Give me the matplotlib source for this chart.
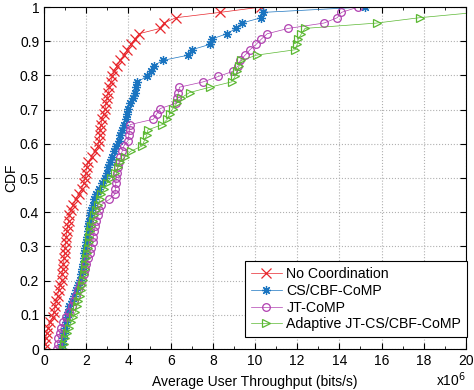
import numpy as np
import matplotlib.pyplot as plt
from matplotlib.ticker import MultipleLocator

plt.rcParams['font.family'] = ['Liberation Sans', 'DejaVu Sans']

# throughput samples (x 10^6 bits/s), sorted, one per CDF level (65 levels: 0..64/64)
no_coord = [0.0, 0.05, 0.08, 0.12, 0.2, 0.3, 0.4, 0.47, 0.53, 0.58, 0.64, 0.7, 0.77,
            0.84, 0.86, 0.89, 0.92, 0.95, 0.97, 0.99, 1.02, 1.05, 1.08, 1.12, 1.16,
            1.2, 1.26, 1.38, 1.5, 1.65, 1.78, 1.88, 1.95, 1.98, 2.02, 2.1, 2.25, 2.4,
            2.55, 2.62, 2.64, 2.66, 2.7, 2.75, 2.82, 2.89, 2.95, 3.0, 3.05, 3.1, 3.17,
            3.24, 3.32, 3.45, 3.62, 3.8, 3.95, 4.1, 4.3, 4.5, 5.5, 5.68, 6.25, 8.35, 10.3]
cs_cbf = [0.8, 0.85, 0.9, 0.95, 1.0, 1.04, 1.08, 1.14, 1.2, 1.3, 1.4, 1.5, 1.6, 1.7,
          1.75, 1.8, 1.85, 1.88, 1.91, 1.94, 1.98, 2.02, 2.06, 2.1, 2.14, 2.18, 2.22,
          2.3, 2.38, 2.45, 2.6, 2.75, 2.9, 2.97, 3.04, 3.12, 3.2, 3.3, 3.42, 3.55, 3.62,
          3.7, 3.8, 3.86, 3.92, 3.98, 4.08, 4.2, 4.3, 4.36, 4.42, 4.87, 5.05, 5.2, 5.62,
          6.84, 7.0, 7.85, 7.95, 8.66, 9.1, 9.37, 10.3, 10.4, 15.2]
jt_comp = [0.6, 0.64, 0.68, 0.74, 0.8, 0.9, 1.05, 1.2, 1.3, 1.42, 1.52, 1.62, 1.72,
           1.8, 1.88, 1.94, 2.0, 2.08, 2.16, 2.24, 2.3, 2.34, 2.38, 2.42, 2.48, 2.54,
           2.6, 2.7, 3.1, 3.36, 3.38, 3.4, 3.42, 3.44, 3.5, 3.56, 3.62, 3.7, 3.78, 3.98,
           4.02, 4.05, 4.08, 5.18, 5.34, 5.5, 6.26, 6.3, 6.37, 6.42, 7.55, 8.26, 8.97,
           9.2, 9.3, 9.53, 9.76, 10.05, 10.3, 10.58, 11.58, 13.27, 13.9, 14.1, 14.9]
adaptive = [0.92, 0.96, 1.0, 1.08, 1.18, 1.28, 1.38, 1.48, 1.55, 1.62, 1.68, 1.74, 1.8,
            1.85, 1.88, 1.92, 1.96, 2.0, 2.04, 2.08, 2.11, 2.14, 2.17, 2.22, 2.3, 2.38,
            2.46, 2.55, 2.64, 2.72, 2.85, 2.97, 3.15, 3.35, 3.5, 3.6, 3.85, 4.1, 4.65,
            4.75, 4.87, 4.92, 5.6, 5.84, 5.95, 6.1, 6.29, 6.5, 6.9, 7.87, 8.9, 9.05, 9.15,
            9.25, 9.35, 10.08, 11.9, 12.0, 12.05, 12.2, 12.37, 15.77, 17.8, 20.5, 25.0]

labels = ['No Coordination', 'CS/CBF-CoMP', 'JT-CoMP', 'Adaptive JT-CS/CBF-CoMP']
colors = ['#e8262c', '#1a74c0', '#b040b0', '#5bb832']
markers = ['x', (8, 2, 0), 'o', '>']
sizes = [6.5, 6.5, 5.5, 5.5]

fig = plt.figure(figsize=(4.74, 3.90), dpi=100)
ax = fig.add_axes([0.093, 0.105, 0.89, 0.877])

for data, lab, c, m, s in zip([no_coord, cs_cbf, jt_comp, adaptive], labels, colors, markers, sizes):
    xs = np.sort(np.array(data))
    cdf = np.arange(len(xs)) / (len(xs) - 1)
    ax.plot(xs, cdf, color=c, lw=0.5, marker=m, ms=s, mew=0.9,
            mfc='none', mec=c, label=lab)

ax.set_xlim(0, 20)
ax.set_ylim(0, 1)
ax.xaxis.set_major_locator(MultipleLocator(2))
ax.xaxis.set_minor_locator(MultipleLocator(1))
ax.set_yticks(np.arange(0, 1.01, 0.1))
ax.set_yticklabels(['0', '0.1', '0.2', '0.3', '0.4', '0.5', '0.6', '0.7', '0.8', '0.9', '1'])
ax.tick_params(which='both', direction='in', top=True, right=True, labelsize=10)
ax.tick_params(which='major', length=4)
ax.tick_params(which='minor', length=2.5)
ax.grid(True, which='major', ls=':', color='#b0b0b0', lw=0.8)
for s in ax.spines.values():
    s.set_linewidth(0.8)

ax.set_xlabel('Average User Throughput (bits/s)', fontsize=10, labelpad=5)
ax.set_ylabel('CDF', fontsize=10, labelpad=1)
ax.text(1.0, -0.09, r'x10$^6$', transform=ax.transAxes, ha='right', va='center', fontsize=10)

leg = ax.legend(loc='lower right', bbox_to_anchor=(1.002, 0.035), fontsize=10.2,
                fancybox=False, edgecolor='black', framealpha=1, handlelength=2.2,
                handletextpad=0.3, borderaxespad=0, borderpad=0.4, labelspacing=0.2)
leg.get_frame().set_linewidth(0.8)

fig.savefig('out.png', dpi=100)
